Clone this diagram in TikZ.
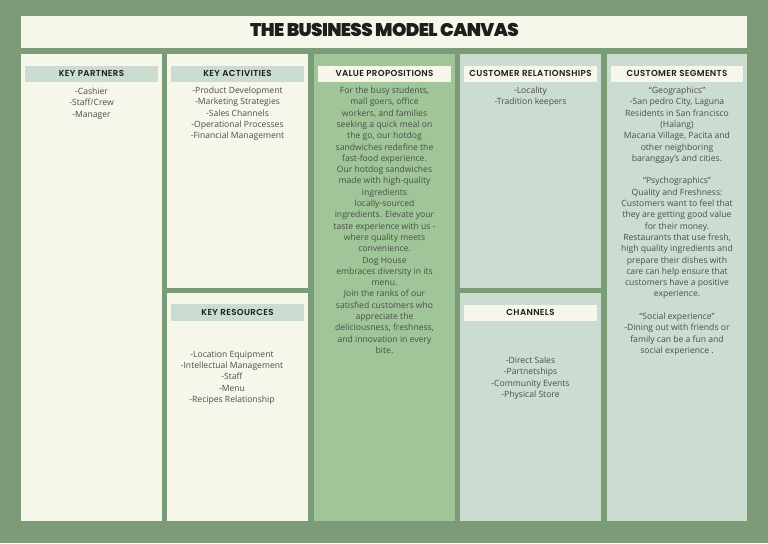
\documentclass[tikz,border=0pt]{standalone}
\usepackage{fontspec}
\setmainfont{Open Sans}
\newfontfamily\headf{Poppins}[UprightFont=*-SemiBold,LetterSpace=4]
\newfontfamily\titlef{Poppins}[UprightFont=*-Black,LetterSpace=-3.5]
\definecolor{bgG}{HTML}{7C9C78}
\definecolor{creamC}{HTML}{F6F6EA}
\definecolor{paleG}{HTML}{CBDCD1}
\definecolor{midG}{HTML}{9FC598}
\definecolor{inkT}{HTML}{4A4F49}
\definecolor{inkH}{HTML}{1C1F1C}
\tikzset{
  x=0.75pt,y=-0.75pt,
  headbar/.style={inner sep=0,outer sep=0,minimum height=12.4pt,text=inkH,font=\headf\fontsize{6.5}{8}\selectfont,anchor=north},
  bodytext/.style={inner sep=0,outer sep=0,anchor=north,align=center,text=inkT,font=\fontsize{6.45}{8.475}\selectfont},
}
\begin{document}
\begin{tikzpicture}
\useasboundingbox (0,0) rectangle (768,543);
\fill[bgG] (0,0) rectangle (768,543);
% panels
\fill[creamC] (21,16) rectangle (747,48);
\fill[creamC] (21,54) rectangle (162,521);
\fill[creamC] (167,54) rectangle (308,288);
\fill[creamC] (167,293) rectangle (308,521);
\fill[midG] (314,54) rectangle (455,521);
\fill[paleG] (460,54) rectangle (601,288);
\fill[paleG] (460,293) rectangle (601,521);
\fill[paleG] (607,54) rectangle (747,521);
% title
\node[inner sep=0,text=inkH,font=\titlef\fontsize{13.75}{16}\selectfont] (title) at (384.5,30) {THE BUSINESS MODEL CANVAS};
% headers
\node[headbar,fill=paleG,minimum width=99.75pt] (kp) at (91.5,65.5) {KEY PARTNERS};
\node[headbar,fill=paleG,minimum width=99.75pt] (ka) at (237.5,65.5) {KEY ACTIVITIES};
\node[headbar,fill=paleG,minimum width=99.75pt] (kr) at (237.5,304) {KEY RESOURCES};
\node[headbar,fill=creamC,minimum width=99.75pt] (vp) at (384.5,65.5) {VALUE PROPOSITIONS};
\node[headbar,fill=creamC,minimum width=99.75pt] (cr) at (530.5,65.5) {CUSTOMER RELATIONSHIPS};
\node[headbar,fill=creamC,minimum width=99.75pt] (ch) at (530.5,304.5) {CHANNELS};
\node[headbar,fill=creamC,minimum width=99pt] (cs) at (677,65.5) {CUSTOMER SEGMENTS};
% body
\node[bodytext] (kpt) at (91.5,88) {-Cashier\\-Staff/Crew\\-Manager};
\node[bodytext] (kat) at (237.5,87) {-Product Development\\-Marketing Strategies\\-Sales Channels\\-Operational Processes\\-Financial Management};
\node[bodytext] (krt) at (232,351) {-Location Equipment\\-Intellectual Management\\-Staff\\-Menu\\-Recipes Relationship};
\node[bodytext] (vpt) at (384.5,87) {For the busy students,\\mall goers, office\\workers, and families\\seeking a quick meal on\\the go, our hotdog\\sandwiches redefine the\\fast-food experience.\\Our hotdog sandwiches\\made with high-quality\\ingredients\\locally-sourced\\ingredients. Elevate your\\taste experience with us -\\where quality meets\\convenience.\\Dog House\\embraces diversity in its\\menu.\\Join the ranks of our\\satisfied customers who\\appreciate the\\deliciousness, freshness,\\and innovation in every\\bite.};
\node[bodytext] (crt) at (530.5,87) {-Locality\\-Tradition keepers};
\node[bodytext] (cht) at (530.5,357) {-Direct Sales\\-Partnetships\\-Community Events\\-Physical Store};
\node[bodytext] (cst) at (677,87) {“Geographics”\\-San pedro City, Laguna\\Residents in San francisco\\(Halang)\\Macaria Village, Pacita and\\other neighboring\\baranggay's and cities.\\[8.475pt]“Psychographics”\\Quality and Freshness:\\Customers want to feel that\\they are getting good value\\for their money.\\Restaurants that use fresh,\\high quality ingredients and\\prepare their dishes with\\care can help ensure that\\customers have a positive\\experience.\\[8.475pt]“Social experience”\\-Dining out with friends or\\family can be a fun and\\social experience .};
\end{tikzpicture}
\end{document}
